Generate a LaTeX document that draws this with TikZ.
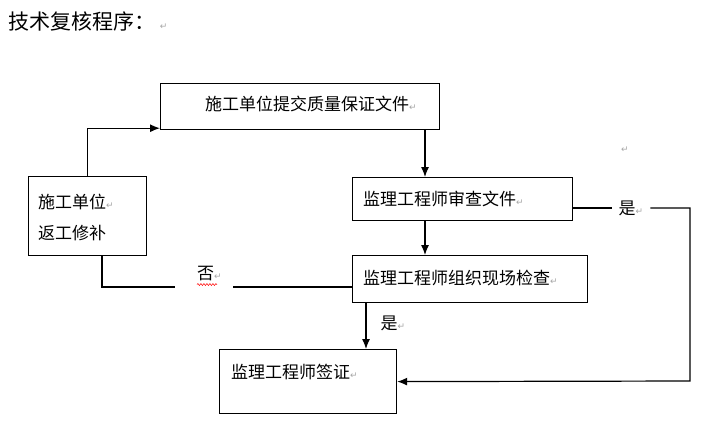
\documentclass[tikz,border=0pt]{standalone}
\usepackage{fontspec}
\newfontfamily\cjk{Noto Sans CJK SC}
\newfontfamily\dejavu{DejaVu Sans}
\usetikzlibrary{arrows.meta,decorations.pathmorphing}
\newcommand{\retmark}{{\dejavu\fontsize{9}{9}\selectfont\color{gray!70}↵}}

\tikzset{
  box/.style={draw, line width=1.2pt, inner sep=0pt, anchor=north west},
  txt/.style={font=\cjk\fontsize{17}{31}\selectfont, inner sep=0pt, anchor=west, align=left},
  tag/.style={font=\cjk\fontsize{17}{17}\selectfont, inner sep=0pt},
  flow/.style={line width=1.2pt},
  flowarrow/.style={flow, -{Latex[length=10pt,width=8pt]}},
}

\begin{document}
\begin{tikzpicture}[x=1pt,y=-1pt]
  \useasboundingbox (0,0) rectangle (714,421);
  % heading
  \node[txt, font=\cjk\fontsize{21}{21}\selectfont] (title) at (8,21) {技术复核程序：\ \retmark};
  % boxes
  \node[box, minimum width=279pt, minimum height=46pt] (submit) at (160,83) {};
  \node[box, minimum width=118pt, minimum height=79pt] (fix) at (28,176) {};
  \node[box, minimum width=220pt, minimum height=43pt] (review) at (352,177) {};
  \node[box, minimum width=235pt, minimum height=47pt] (inspect) at (352,255) {};
  \node[box, minimum width=177pt, minimum height=64pt] (sign) at (219,349) {};
  % box texts
  \node[txt] (submitTxt) at (205,104) {施工单位提交质量保证文件\retmark};
  \node[txt] (fixTxt) at (38,217) {施工单位\retmark\\返工修补};
  \node[txt] (reviewTxt) at (363,199) {监理工程师审查文件\retmark};
  \node[txt] (inspectTxt) at (363,278) {监理工程师组织现场检查\retmark};
  \node[txt] (signTxt) at (231,372) {监理工程师签证\retmark};
  % branch labels
  \node[tag, inner xsep=7pt] (yes1) at (631,208) {是\retmark};
  \node[tag] (yes2) at (393,323) {是\retmark};
  \node[tag, anchor=west] (no1) at (197,274) {否\retmark};
  \draw[red, line width=0.5pt, decorate, decoration={snake, amplitude=1pt, segment length=3pt}]
    ([yshift=-3pt]no1.south west) -- ++(20,0);
  \node (stray) at (625,150) {\retmark};
  % routing points
  \coordinate (mainx) at (425,0);
  \coordinate (signx) at (366,0);
  \coordinate (fixx) at (102,0);
  \coordinate (rturn) at (690,381);
  \coordinate (noL) at (175,287);
  \coordinate (noR) at (233,287);
  % connectors
  \draw[flowarrow] (fix.north) |- ([yshift=2pt]submit.south west);
  \draw[flowarrow] (submit.south -| mainx) -- (review.north -| mainx);
  \draw[flowarrow] (review.south -| mainx) -- (inspect.north -| mainx);
  \draw[flow] (review.east |- yes1) -- (yes1.west);
  \draw[flowarrow] (yes1.east) -| (rturn) -- (sign.east);
  \draw[flowarrow] (inspect.south -| signx) -- (sign.north -| signx);
  \draw[flow] (fix.south -| fixx) |- (noL);
  \draw[flow] (noR) -- (inspect.west |- noR);
\end{tikzpicture}
\end{document}
